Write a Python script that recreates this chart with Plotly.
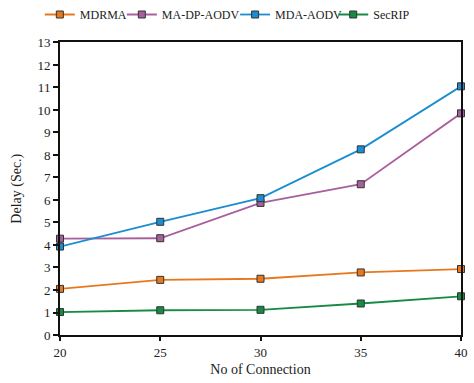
import plotly.graph_objects as go

x_vals = [20, 25, 30, 35, 40]
mdrma = [2.05, 2.45, 2.5, 2.78, 2.93]
ma_dp_aodv = [4.28, 4.3, 5.87, 6.7, 9.85]
mda_aodv = [3.93, 5.03, 6.08, 8.25, 11.05]
secrip = [1.02, 1.1, 1.12, 1.4, 1.72]

series = [
    ("MDRMA", mdrma, "#E8781E"),
    ("MA-DP-AODV", ma_dp_aodv, "#A8609C"),
    ("MDA-AODV", mda_aodv, "#1A8ED0"),
    ("SecRIP", secrip, "#178A45"),
]
legend_ids = ["legend", "legend2", "legend3", "legend4"]
legend_x = [0.084, 0.257, 0.496, 0.703]

fig = go.Figure()
for (name, vals, col), lid in zip(series, legend_ids):
    fig.add_trace(go.Scatter(
        x=x_vals, y=vals, name=name, mode="lines+markers",
        line=dict(color=col, width=1.8),
        marker=dict(symbol="square", size=7, color=col,
                    line=dict(color="#333333", width=1)),
        cliponaxis=False, legend=lid, showlegend=True,
    ))

font = dict(family="Liberation Serif, Times New Roman, serif", size=13, color="#222222")
legend_common = dict(orientation="h", xref="container", yref="container",
                     xanchor="left", y=1.0, yanchor="top",
                     font=dict(size=12), itemwidth=30,
                     bgcolor="rgba(0,0,0,0)")
layout_legends = {}
for lid, lx in zip(legend_ids, legend_x):
    layout_legends[lid] = dict(legend_common, x=lx)

fig.update_layout(
    width=474, height=383,
    showlegend=True,
    margin=dict(l=60, r=6, t=28, b=48),
    paper_bgcolor="white", plot_bgcolor="white",
    font=font,
    xaxis=dict(range=[20, 40], tickvals=[20, 25, 30, 35, 40],
               showgrid=False, zeroline=False,
               showline=True, linecolor="#111111", linewidth=2, mirror=True,
               ticks="outside", ticklen=4, tickcolor="#111111", tickwidth=1.5,
               title=dict(text="No of Connection", standoff=6, font=dict(size=14))),
    yaxis=dict(range=[0, 13], dtick=1,
               showgrid=False, zeroline=False,
               showline=True, linecolor="#111111", linewidth=2, mirror=True,
               ticks="outside", ticklen=5, tickcolor="#111111", tickwidth=1.5,
               title=dict(text="Delay (Sec.)", standoff=12, font=dict(size=14))),
    **layout_legends,
)

fig.write_html("out.html", config={"displayModeBar": False},
               post_script="document.body.style.margin='0';document.body.style.overflow='hidden';")
